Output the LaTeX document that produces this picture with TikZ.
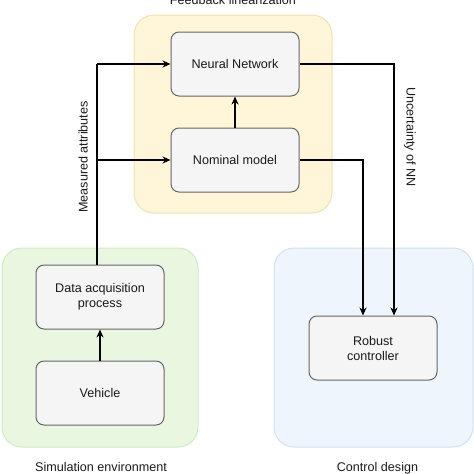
\documentclass[tikz,border=0pt]{standalone}
\usepackage{fontspec}
\setmainfont{Liberation Sans}
\usetikzlibrary{arrows.meta}
\definecolor{boxfill}{HTML}{F5F5F5}
\definecolor{boxline}{HTML}{666666}
\definecolor{txt}{HTML}{1A1A1A}
\definecolor{yfill}{HTML}{FFF5D8}
\definecolor{yline}{HTML}{EEE2B0}
\definecolor{gfill}{HTML}{E9F7E0}
\definecolor{gline}{HTML}{CDEBC0}
\definecolor{bfill}{HTML}{EEF5FC}
\definecolor{bline}{HTML}{D0E0F0}
\tikzset{
  procbox/.style={draw=boxline, fill=boxfill, line width=1pt, rounded corners=8pt,
    minimum width=128pt, minimum height=64pt, text=txt, align=center,
    font=\fontsize{12.6}{15}\selectfont, inner sep=0pt},
  group/.style={line width=1pt, rounded corners=20pt},
  lbl/.style={text=txt, font=\fontsize{12.6}{15}\selectfont, inner sep=0pt},
  conn/.style={line width=1.2pt, draw=black, -{Stealth[length=8pt,width=7pt]}},
  plain/.style={line width=1.2pt, draw=black}
}
\begin{document}
\begin{tikzpicture}[x=1pt,y=-1pt]
\useasboundingbox (0,0) rectangle (474,474);
% groups
\draw[group, fill=yfill, draw=yline] (134,15) rectangle (332,213);
\draw[group, fill=gfill, draw=gline] (2,248) rectangle (198,447);
\draw[group, fill=bfill, draw=bline] (274,248) rectangle (473,447);
% group labels
\node[lbl, anchor=base] (tfb) at (233,4) {Feedback linearization};
\node[lbl, anchor=base] (tsim) at (101,471.5) {Simulation environment};
\node[lbl, anchor=base] (tctl) at (377.5,471.5) {Control design};
% boxes
\node[procbox] (nn) at (235,64) {Neural Network};
\node[procbox] (nom) at (235,160) {Nominal model};
\node[procbox] (daq) at (100,297) {Data acquisition\\process};
\node[procbox] (veh) at (100,393) {Vehicle};
\node[procbox] (rob) at (373,348) {Robust\\controller};
% helper coordinates
\coordinate (ma) at (97,64);
\coordinate (mb) at (97,160);
\coordinate (ua) at (394,64);
\coordinate (ub) at (363,160);
% connectors
\draw[conn] (veh.north) -- (daq.north |- veh.north) -- (daq.south);
\draw[conn] (nom.north) -- (nn.south);
\draw[plain] (daq.north -| ma) -- (ma);
\draw[conn] (ma) -- (nn.west);
\draw[conn] (mb) -- (nom.west);
\draw[conn] (nn.east) -- (ua) -- (ua |- rob.north);
\draw[conn] (nom.east) -- (ub) -- (ub |- rob.north);
% edge labels
\node[lbl, rotate=90] (lma) at (83,157) {Measured attributes};
\node[lbl, rotate=-90] (lun) at (410,137) {Uncertainty of NN};
\end{tikzpicture}
\end{document}
